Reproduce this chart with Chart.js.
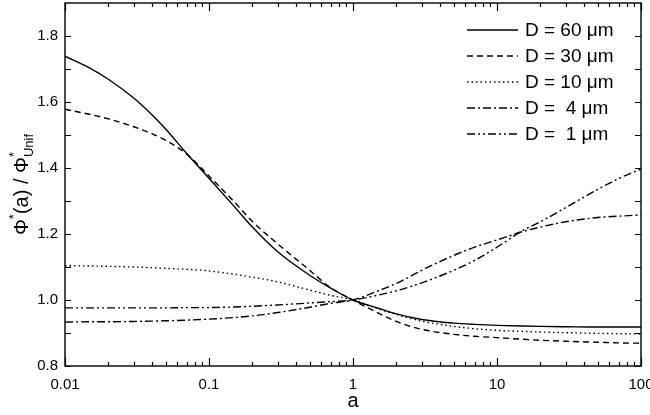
<!DOCTYPE html>
<html><head><meta charset="utf-8">
<script src="https://cdn.jsdelivr.net/npm/chart.js@4.4.1/dist/chart.umd.min.js"></script>
<style>html,body{margin:0;padding:0;background:#fff}#wrap{width:650px;height:415px}</style>
</head><body><div id="wrap"><canvas id="c" width="650" height="415"></canvas></div>
<script>
// ---- data ----
const aValues = [0.01,0.015,0.02,0.03,0.04,0.05,0.07,0.1,0.15,0.2,0.3,0.5,0.7,1,1.5,2,3,5,7,10,15,20,30,50,70,100];
const phiD60 = [1.739,1.702,1.669,1.612,1.562,1.518,1.444,1.369,1.283,1.221,1.146,1.075,1.036,1.000,0.975,0.958,0.941,0.930,0.926,0.923,0.921,0.920,0.919,0.918,0.918,0.918];
const phiD30 = [1.578,1.562,1.549,1.525,1.504,1.484,1.442,1.376,1.297,1.238,1.170,1.090,1.037,1.000,0.960,0.935,0.911,0.896,0.890,0.886,0.881,0.878,0.875,0.872,0.870,0.869];
const phiD10 = [1.104,1.103,1.102,1.100,1.098,1.096,1.093,1.088,1.078,1.069,1.055,1.030,1.014,1.000,0.973,0.956,0.936,0.920,0.913,0.908,0.905,0.903,0.901,0.899,0.898,0.897];
const phiD4  = [0.933,0.934,0.934,0.935,0.936,0.937,0.939,0.942,0.947,0.952,0.962,0.978,0.990,1.000,1.028,1.050,1.090,1.135,1.160,1.182,1.207,1.221,1.237,1.250,1.254,1.258];
const phiD1  = [0.976,0.976,0.976,0.976,0.976,0.976,0.977,0.977,0.979,0.981,0.985,0.991,0.995,1.000,1.015,1.028,1.052,1.090,1.120,1.160,1.210,1.237,1.280,1.335,1.368,1.397];
const seriesLabels = ['D = 60 \u03bcm','D = 30 \u03bcm','D = 10 \u03bcm','D =  4 \u03bcm','D =  1 \u03bcm'];
const xMajorTicks = [0.01,0.1,1,10,100];
const xTickLabels = ['0.01','0.1','1','10','100'];
const yMajorTicks = [0.8,1.0,1.2,1.4,1.6,1.8];
const yTickLabels = ['0.8','1.0','1.2','1.4','1.6','1.8'];
const yMinorTicks = [0.9,1.1,1.3,1.5,1.7];

const FONT = "'Liberation Sans', Arial, sans-serif";
const dashes = [[], [6,4], [1.5,3], [8,3,2,3], [8,3,2,3,2,3]];
const allSeries = [phiD60, phiD30, phiD10, phiD4, phiD1];

const datasets = allSeries.map((s, i) => ({
  label: seriesLabels[i],
  data: aValues.map((a, k) => ({x: a, y: s[k]})),
  borderColor: '#000',
  borderWidth: 1.4,
  borderDash: dashes[i],
  pointRadius: 0,
  fill: false,
  cubicInterpolationMode: 'monotone'
}));

const framePlugin = {
  id: 'frame',
  afterDraw(chart) {
    const {ctx, chartArea: ca, scales} = chart;
    const xs = scales.x, ys = scales.y;
    ctx.save();
    ctx.strokeStyle = '#000';
    ctx.lineWidth = 1.4;
    ctx.setLineDash([]);
    ctx.strokeRect(ca.left, ca.top, ca.right - ca.left, ca.bottom - ca.top);
    ctx.lineWidth = 1.2;
    ctx.beginPath();
    for (let d = -2; d <= 2; d++) {
      for (let m = 1; m <= 9; m++) {
        const v = m * Math.pow(10, d);
        if (v < 0.01 || v > 100) continue;
        const px = Math.round(xs.getPixelForValue(v)) + 0.5;
        const len = m === 1 ? 8 : 4;
        ctx.moveTo(px, ca.bottom); ctx.lineTo(px, ca.bottom - len);
        ctx.moveTo(px, ca.top); ctx.lineTo(px, ca.top + len);
      }
    }
    yMajorTicks.concat(yMinorTicks).forEach(v => {
      const py = Math.round(ys.getPixelForValue(v)) + 0.5;
      ctx.moveTo(ca.left, py); ctx.lineTo(ca.left + 6, py);
      ctx.moveTo(ca.right, py); ctx.lineTo(ca.right - 6, py);
    });
    ctx.stroke();

    // legend
    chart.data.datasets.forEach((ds, i) => {
      const y = 30 + i * 26;
      ctx.beginPath();
      ctx.lineWidth = ds.borderWidth;
      ctx.setLineDash(ds.borderDash);
      ctx.moveTo(467, y); ctx.lineTo(518, y);
      ctx.stroke();
      ctx.setLineDash([]);
      ctx.fillStyle = '#000';
      ctx.font = '19px ' + FONT;
      ctx.textBaseline = 'middle';
      ctx.textAlign = 'left';
      ctx.fillText(ds.label, 525, y + 1);
    });

    // y axis title with super/subscripts
    const big = '20px ' + FONT, small = '13px ' + FONT;
    ctx.font = big; const wPhi = ctx.measureText('\u03a6').width;
    const wMid = ctx.measureText('(a) / \u03a6').width;
    ctx.font = small; const wStar = ctx.measureText('*').width;
    const wUnif = ctx.measureText('Unif').width;
    const total = wPhi + wStar + wMid + Math.max(wStar, wUnif);
    const cy = (ca.top + ca.bottom) / 2;
    ctx.translate(28, cy);
    ctx.rotate(-Math.PI / 2);
    ctx.textBaseline = 'alphabetic';
    ctx.textAlign = 'left';
    let x = -total / 2;
    ctx.font = big; ctx.fillText('\u03a6', x, 0); x += wPhi;
    ctx.font = small; ctx.fillText('*', x, -10); x += wStar;
    ctx.font = big; ctx.fillText('(a) / \u03a6', x, 0); x += wMid;
    ctx.font = small; ctx.fillText('*', x, -10); ctx.fillText('Unif', x, 5);
    ctx.restore();
  }
};

new Chart(document.getElementById('c'), {
  type: 'line',
  data: { datasets },
  options: {
    responsive: false,
    animation: false,
    devicePixelRatio: 1,
    layout: { padding: { left: 0, right: 9, top: 3, bottom: 0 } },
    plugins: { legend: { display: false }, tooltip: { enabled: false } },
    scales: {
      x: {
        type: 'logarithmic',
        min: 0.01, max: 100,
        afterBuildTicks: s => { s.ticks = xMajorTicks.map(v => ({value: v})); },
        afterFit: s => { s.height = 49; s.paddingLeft = 0; s.paddingRight = 0; },
        grid: { display: false, drawTicks: false },
        border: { display: false },
        ticks: {
          autoSkip: false, maxRotation: 0, padding: 10, color: '#000',
          font: { family: FONT, size: 15 },
          callback: (v) => { const i = xMajorTicks.indexOf(v); return i >= 0 ? xTickLabels[i] : ''; }
        },
        title: { display: true, text: 'a', color: '#000', font: { family: FONT, size: 20 }, padding: {top: 4, bottom: 2} }
      },
      y: {
        type: 'linear',
        min: 0.8, max: 1.9,
        afterBuildTicks: s => { s.ticks = yMajorTicks.map(v => ({value: v})); },
        afterFit: s => { s.width = 65; s.paddingTop = 0; s.paddingBottom = 0; },
        grid: { display: false, drawTicks: false },
        border: { display: false },
        ticks: {
          autoSkip: false, padding: 7, color: '#000',
          font: { family: FONT, size: 15 },
          callback: (v) => { const i = yMajorTicks.findIndex(t => Math.abs(t - v) < 1e-6); return i >= 0 ? yTickLabels[i] : ''; }
        }
      }
    }
  },
  plugins: [framePlugin]
});
</script>
</body></html>
